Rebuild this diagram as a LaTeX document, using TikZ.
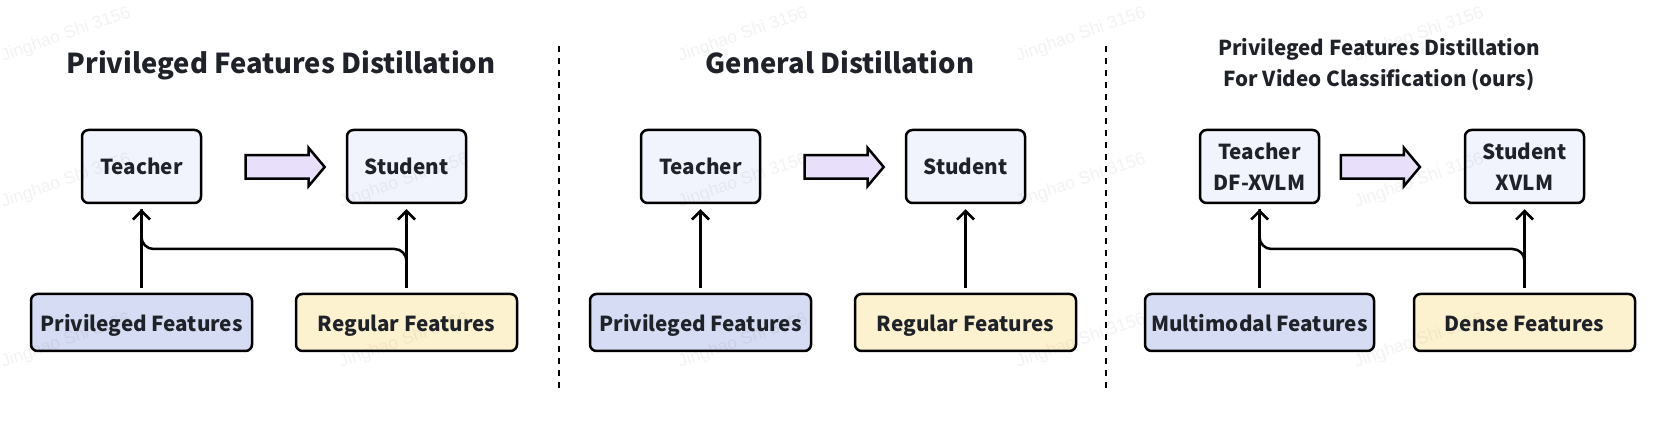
\documentclass[tikz,border=0pt]{standalone}
\usepackage{fontspec}
\setmainfont{Noto Sans CJK SC}
\newfontfamily\markfont{Liberation Sans}
\usetikzlibrary{arrows.meta,shapes.arrows}
\definecolor{inktext}{HTML}{1F2329}
\definecolor{modelfill}{HTML}{F1F4FC}
\definecolor{privfill}{HTML}{D6DCF3}
\definecolor{regfill}{HTML}{FDF2D0}
\definecolor{distilfill}{HTML}{E8E0FA}
\begin{document}
\begin{tikzpicture}
    \tikzstyle{box} = [draw=black, line width=0.05cm, rounded corners=0.13cm, text=inktext, font=\fontsize{11.75}{17.5}\selectfont\bfseries, align=center, inner sep=0pt]
    \tikzstyle{model} = [box, fill=modelfill, minimum width=2.38cm, minimum height=1.46cm]
    \tikzstyle{oneline} = [model, text height=0.4cm, text depth=0.08cm]
    \tikzstyle{feature} = [box, minimum width=4.42cm, minimum height=1.14cm, text height=0.44cm, text depth=0.08cm]
    \tikzstyle{privileged} = [feature, fill=privfill]
    \tikzstyle{regular} = [feature, fill=regfill]
    \tikzstyle{distil} = [draw=black, line width=0.05cm, fill=distilfill, single arrow, single arrow head extend=0.15cm, single arrow tip angle=100, inner xsep=0pt, inner ysep=0.21cm, minimum height=1.58cm]
    \tikzstyle{feed} = [draw=black, line width=0.05cm, shorten <=0.1cm, shorten >=0.1cm]
    \tikzstyle{feedtip} = [feed, -{Straight Barb[length=0.17cm, width=0.34cm]}]
    \tikzstyle{heading} = [text=inktext, font=\fontsize{15.6}{20}\selectfont\bfseries, align=center, text height=0.42cm, text depth=0.1cm]
    \tikzstyle{subheading} = [text=inktext, font=\fontsize{11.7}{17.5}\selectfont\bfseries, align=center]
    \tikzstyle{divider} = [draw=black, line width=0.04cm, dash pattern=on 0.12cm off 0.12cm]
    \tikzstyle{stamp} = [font=\fontsize{10}{12}\markfont, text=black, text opacity=0.05, rotate=19]

    \useasboundingbox[fill=white] (0, 0) rectangle (33.36, 8.58);

    % left panel
    \node[heading] (titleA) at (5.62, 7.26) {Privileged Features Distillation};
    \node[oneline] (teacherA) at (2.83, 5.25) {Teacher};
    \node[oneline] (studentA) at (8.13, 5.25) {Student};
    \node[distil] (distilA) at (5.605, 5.24) {};
    \node[privileged] (privA) at (2.83, 2.13) {Privileged Features};
    \node[regular] (regA) at (8.13, 2.13) {Regular Features};
    \coordinate (busA) at (5, 3.6);
    \draw[feedtip] (privA.north) -- (teacherA.south);
    \draw[feedtip] (regA.north) -- (studentA.south);
    \draw[feed, rounded corners=0.24cm] (regA.north) -- (regA.north |- busA) -- (privA.north |- busA) -- (teacherA.south);

    \coordinate (lineA) at (11.18, 7.66);
    \coordinate (lineAend) at (11.18, 0.8);
    \draw[divider] (lineA) -- (lineAend);

    % middle panel
    \begin{scope}[xshift=11.18cm]
        \node[heading] (titleB) at (5.62, 7.26) {General Distillation};
        \node[oneline] (teacherB) at (2.83, 5.25) {Teacher};
        \node[oneline] (studentB) at (8.13, 5.25) {Student};
        \node[distil] (distilB) at (5.605, 5.24) {};
        \node[privileged] (privB) at (2.83, 2.13) {Privileged Features};
        \node[regular] (regB) at (8.13, 2.13) {Regular Features};
        \draw[feedtip] (privB.north) -- (teacherB.south);
        \draw[feedtip] (regB.north) -- (studentB.south);
    \end{scope}

    \coordinate (lineB) at (22.12, 7.66);
    \coordinate (lineBend) at (22.12, 0.8);
    \draw[divider] (lineB) -- (lineBend);

    % right panel
    \begin{scope}[xshift=22.36cm]
        \node[subheading] (titleC) at (5.22, 7.29) {Privileged Features Distillation\\For Video Classification (ours)};
        \node[model] (teacherC) at (2.83, 5.25) {Teacher\\DF-XVLM};
        \node[model] (studentC) at (8.13, 5.25) {Student\\XVLM};
        \node[distil] (distilC) at (5.15, 5.24) {};
        \node[privileged, minimum width=4.58cm] (privC) at (2.83, 2.13) {Multimodal Features};
        \node[regular] (regC) at (8.13, 2.13) {Dense Features};
        \coordinate (busC) at (5, 3.6);
        \draw[feedtip] (privC.north) -- (teacherC.south);
        \draw[feedtip] (regC.north) -- (studentC.south);
        \draw[feed, rounded corners=0.24cm] (regC.north) -- (regC.north |- busC) -- (privC.north |- busC) -- (teacherC.south);
    \end{scope}

    % faint stamps
    \foreach \x/\n in {1.32/a, 14.86/c, 21.62/d, 28.38/e} {
        \node[stamp] (stampT\n) at (\x, 7.88) {Jinghao Shi 3156};
    }
    \foreach \x/\n in {1.32/a, 8.08/b, 14.86/c, 21.62/d, 28.38/e} {
        \node[stamp] (stampM\n) at (\x, 4.96) {Jinghao Shi 3156};
        \node[stamp] (stampL\n) at (\x, 1.76) {Jinghao Shi 3156};
    }
\end{tikzpicture}
\end{document}
